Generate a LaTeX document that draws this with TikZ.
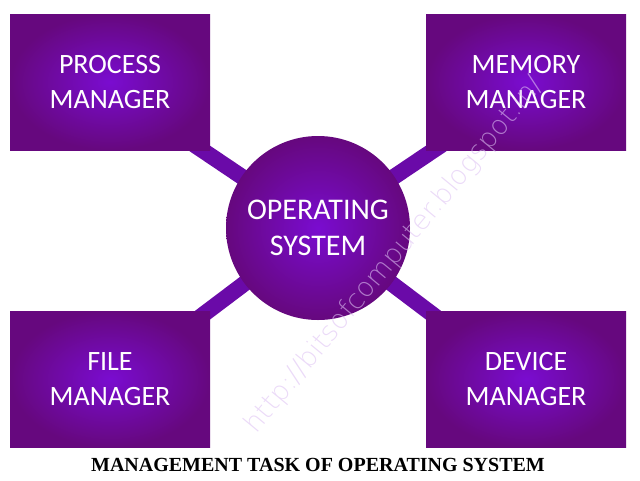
\documentclass[tikz,border=0pt]{standalone}
\usepackage{fontspec}
\setmainfont{Carlito}
\newfontfamily\capfont{Liberation Serif}
\newfontfamily\wmfont{DejaVu Sans ExtraLight}
\definecolor{pin}{HTML}{7A0CD0}
\definecolor{pout}{HTML}{66087E}
\definecolor{bar}{HTML}{6A0AA8}
\begin{document}
\begin{tikzpicture}[x=1pt,y=-1pt,
  box/.style={minimum width=200pt,minimum height=136pt,inner color=pin,outer color=pout,text=white,font=\fontsize{28}{35}\selectfont,align=center,inner sep=0},
  link/.style={bar,line width=16pt}]
\useasboundingbox (0,0) rectangle (640,480);
\coordinate (c0) at (318,228);
\draw[link] (110,88) -- (c0);
\draw[link] (526,88) -- (c0);
\draw[link] (110,385) -- (c0);
\draw[link] (526,385) -- (c0);
\node[box] (pm) at (110,82) {PROCESS\\MANAGER};
\node[box] (mm) at (526,82) {MEMORY\\MANAGER};
\node[box] (fm) at (110,379) {FILE\\MANAGER};
\node[box] (dm) at (526,379) {DEVICE\\MANAGER};
\node[circle,minimum size=184pt,inner sep=0,inner color=pin,outer color=pout,text=white,font=\fontsize{30}{36}\selectfont,align=center] (os) at (c0) {OPERATING\\SYSTEM};
\node[text=pin!25,text opacity=0.6,font=\wmfont\fontsize{27}{27}\selectfont,rotate=50.5] (wm) at (395,255) {http://bitsofcomputer.blogspot.in/};
\node[font=\capfont\bfseries\fontsize{20}{22}\selectfont] (cap) at (318,465) {MANAGEMENT TASK OF OPERATING SYSTEM};
\end{tikzpicture}
\end{document}
